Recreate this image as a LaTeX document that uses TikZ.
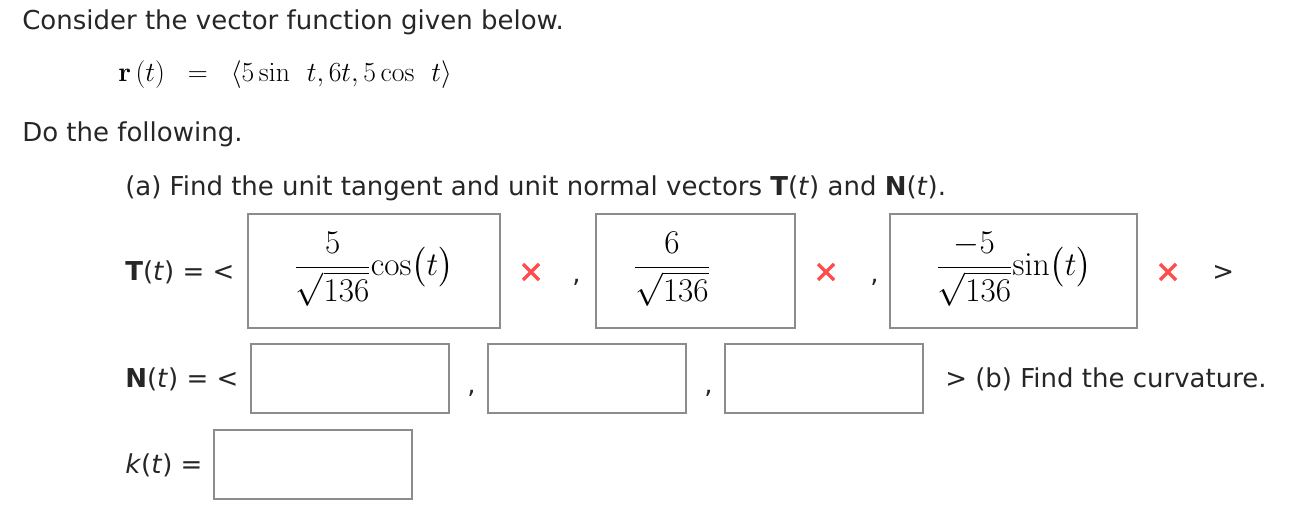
\documentclass[tikz,border=0pt]{standalone}
\usepackage{amsmath}
\usepackage[no-math]{fontspec}
\setmainfont{DejaVu Sans}
\begin{document}
\begin{tikzpicture}[x=0.75pt,y=-0.75pt,
 txt/.style={anchor=base west,inner sep=0pt,font=\fontsize{19.5}{23}\selectfont,text=black!85},
 ans/.style={draw=black!45,line width=0.8pt},
 mth/.style={inner sep=0pt,font=\fontsize{27}{31}\selectfont},
 wrong/.style={draw=red!70!white,line width=2.6pt}]
\useasboundingbox (0,0) rectangle (1312,516);
\node[txt] (l1) at (22,30) {Consider the vector function given below.};
\node[inner sep=0pt,anchor=base west,font=\fontsize{22}{26}\selectfont] (rt) at (118,82) {$\mathbf{r}\,(t)\;\;=\;\;\langle 5\sin\;\,t, 6t, 5\cos\;\,t\rangle$};
\node[txt] (l2) at (22,142) {Do the following.};
\node[txt] (l3) at (125,196) {(a) Find the unit tangent and unit normal vectors \textbf{T}(\textit{t}) and \textbf{N}(\textit{t}).};
\node[txt] (T) at (125,281) {\textbf{T}(\textit{t}) = <};
\draw[ans] (248,214) rectangle (500,328);
\draw[ans] (596,214) rectangle (795,328);
\draw[ans] (890,214) rectangle (1137,328);
\node[mth] (m1) at (374,269) {$\dfrac{5}{\sqrt{136}}\!\cos\!\big(t\big)$};
\node[mth] (m2) at (672,269) {$\dfrac{6}{\sqrt{136}}$};
\node[mth] (m3) at (1014,269) {$\dfrac{-5}{\sqrt{136}}\!\sin\!\big(t\big)$};
\foreach \cx in {531,826,1168}{
 \draw[wrong] (\cx-8,264)--(\cx+8,280) (\cx-8,280)--(\cx+8,264);}
\node[txt] (c1) at (572,283) {,};
\node[txt] (c2) at (870,283) {,};
\node[txt] (gt) at (1212,281) {>};
\node[txt] (N) at (125,387) {\textbf{N}(\textit{t}) = <};
\draw[ans] (251,344) rectangle (449,413);
\draw[ans] (488,344) rectangle (686,413);
\draw[ans] (725,344) rectangle (923,413);
\node[txt] (c3) at (467,393) {,};
\node[txt] (c4) at (704,393) {,};
\node[txt] (b) at (945,387) {> (b) Find the curvature.};
\node[txt] (k) at (125,473) {\textit{k}(\textit{t}) =};
\draw[ans] (214,430) rectangle (412,499);
\end{tikzpicture}
\end{document}
